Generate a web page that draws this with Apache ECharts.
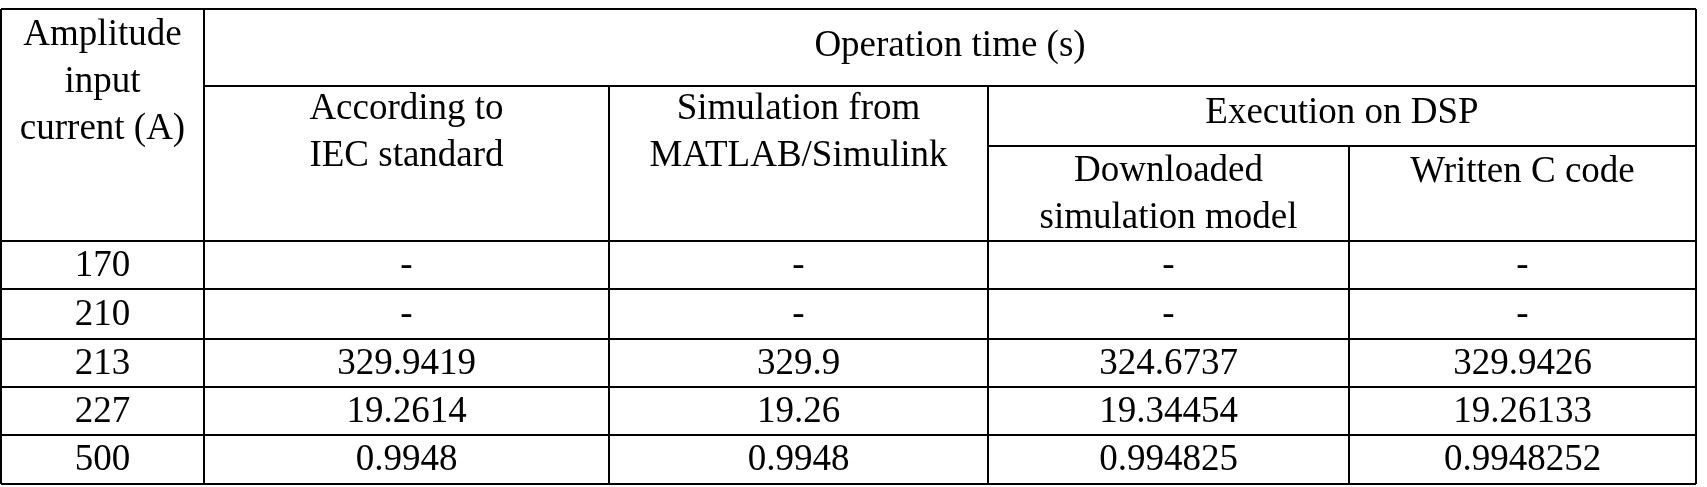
<!DOCTYPE html>
<html><head><meta charset="utf-8">
<script src="https://cdn.jsdelivr.net/npm/echarts@6/dist/echarts.min.js"></script>
<style>html,body{margin:0;padding:0;background:#fff}#c{width:1707px;height:487px}</style>
</head><body><div id="c"></div>
<script>
const currents = ['170','210','213','227','500'];
const iec = ['-','-','329.9419','19.2614','0.9948'];
const matlab = ['-','-','329.9','19.26','0.9948'];
const downloaded = ['-','-','324.6737','19.34454','0.994825'];
const writtenC = ['-','-','329.9426','19.26133','0.9948252'];

const colX = [1, 204, 609, 988, 1349, 1696];
const rowY = [9, 241, 289, 339, 387, 435, 484];
const FONT = '37px "Liberation Serif", "Times New Roman", serif';
const els = [];
function line(x1,y1,x2,y2){els.push({type:'line',shape:{x1,y1,x2,y2},style:{stroke:'#000',lineWidth:2}});}
function text(t,x,y){els.push({type:'text',x,y,style:{text:t,font:FONT,fill:'#000',align:'center',verticalAlign:'middle',lineHeight:47}});}
// borders
line(colX[0],rowY[0],colX[5],rowY[0]);
line(colX[0],rowY[6],colX[5],rowY[6]);
for(let i=1;i<rowY.length-1;i++) line(colX[0],rowY[i],colX[5],rowY[i]);
line(colX[1],86,colX[5],86);
line(colX[3],146,colX[5],146);
line(colX[0],rowY[0],colX[0],rowY[6]);
line(colX[5],rowY[0],colX[5],rowY[6]);
line(colX[1],rowY[0],colX[1],rowY[6]);
line(colX[2],86,colX[2],rowY[6]);
line(colX[3],86,colX[3],rowY[6]);
line(colX[4],146,colX[4],rowY[6]);
const mid=(a,b)=>(a+b)/2;
text('Amplitude\ninput\ncurrent (A)', mid(colX[0],colX[1]), 82);
text('Operation time (s)', mid(colX[1],colX[5]), 46);
text('According to\nIEC standard', mid(colX[1],colX[2]), 133);
text('Simulation from\nMATLAB/Simulink', mid(colX[2],colX[3]), 133);
text('Execution on DSP', mid(colX[3],colX[5]), 113);
text('Downloaded\nsimulation model', mid(colX[3],colX[4]), 195);
text('Written C code', mid(colX[4],colX[5]), 172);
const cols=[currents,iec,matlab,downloaded,writtenC];
cols.forEach((arr,c)=>arr.forEach((v,r)=>text(v, mid(colX[c],colX[c+1]), mid(rowY[r+1],rowY[r+2])+1)));
const chart = echarts.init(document.getElementById('c'));
chart.setOption({animation:false,graphic:{elements:els}});
</script></body></html>
